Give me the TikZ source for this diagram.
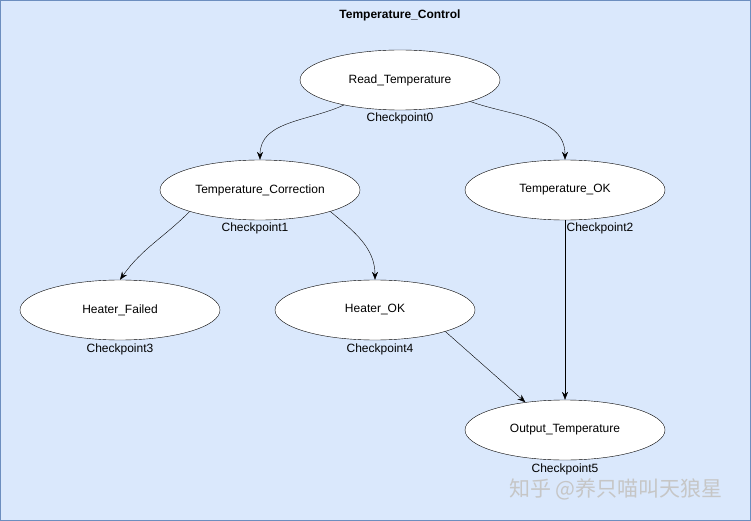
\documentclass[tikz,border=0pt]{standalone}
\usepackage{fontspec}
\setmainfont{Liberation Sans}
\newfontfamily\cjk{Noto Sans CJK SC}
\usetikzlibrary{shapes.geometric,arrows.meta}
\definecolor{bgblue}{HTML}{DAE8FC}
\definecolor{bdblue}{HTML}{6C8EBF}
\begin{document}
\begin{tikzpicture}[x=1pt,y=-1pt,
  st/.style={ellipse,draw=black,fill=white,minimum width=200pt,minimum height=60pt,inner sep=0pt,font=\fontsize{12}{14}\selectfont},
  cp/.style={font=\fontsize{12}{14}\selectfont},
  arr/.style={draw=black,-{Stealth[length=8pt,width=6pt]}}]
\path[fill=bgblue,draw=bdblue] (0.5,0.5) rectangle (750.5,520.5);
\useasboundingbox (0,0) rectangle (751,521);
\node[font=\bfseries\fontsize{12}{14}\selectfont] (title) at (400,15) {Temperature\_Control};
\node[st] (read) at (400,80) {Read\_Temperature};
\node[st] (tc) at (260,190) {Temperature\_Correction};
\node[st] (ok) at (565,190) {Temperature\_OK};
\node[st] (hf) at (120,310) {Heater\_Failed};
\node[st] (hok) at (375,310) {Heater\_OK};
\node[st] (out) at (565,430) {Output\_Temperature};
\node[cp] (c0) at (400,118) {Checkpoint0};
\node[cp] (c1) at (255,228) {Checkpoint1};
\node[cp] (c2) at (600,228) {Checkpoint2};
\node[cp] (c3) at (120,349) {Checkpoint3};
\node[cp] (c4) at (380,349) {Checkpoint4};
\node[cp] (c5) at (565,469) {Checkpoint5};
\draw[arr] (read.204) to[out=205,in=90] (tc.north);
\draw[arr] (read.343) to[out=-20,in=90] (ok.north);
\draw[arr] (tc.197) to[out=-135,in=55] (hf.north);
\draw[arr] (tc.343) to[out=-40,in=90] (hok.north);
\draw[arr] (hok.343) -- (out.145);
\draw[arr] (ok.south) -- (out.north);
\node[text=gray!45,font=\cjk\fontsize{21}{24}\selectfont] (wm) at (616,489) {知乎 @养只喵叫天狼星};
\end{tikzpicture}
\end{document}
